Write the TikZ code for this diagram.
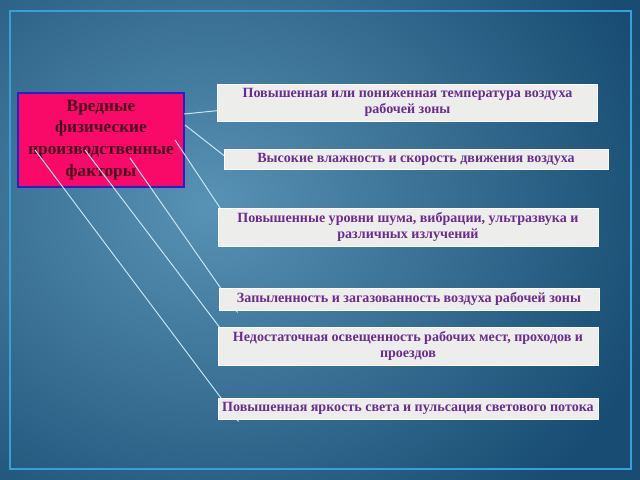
\documentclass[tikz,border=0pt]{standalone}
\usepackage{fontspec}
\setmainfont{Liberation Serif}
\usepackage{tikz}
\usetikzlibrary{arrows,positioning,calc}
\definecolor{bgin}{HTML}{5892B4}
\definecolor{bgout}{HTML}{184C72}
\definecolor{framec}{HTML}{3A9FD6}
\definecolor{hazfill}{HTML}{FA0A68}
\definecolor{hazline}{HTML}{2222C8}
\definecolor{haztext}{HTML}{4A0A1E}
\definecolor{itemfill}{HTML}{EDEDEB}
\definecolor{itemtext}{HTML}{6A2C8E}
\definecolor{linkc}{HTML}{C8E6F4}
\tikzset{hazard/.style={draw=hazline,fill=hazfill,line width=1.4pt,text=haztext,
    minimum width=4.15cm,minimum height=2.35cm,align=center,inner sep=0pt,
    font=\fontsize{12.3}{15.4}\selectfont\bfseries}}
\tikzset{item/.style={fill=itemfill,draw=white,line width=0.4pt,text=itemtext,
    minimum width=9.5cm,align=center,inner xsep=0.1cm,inner ysep=1pt,
    font=\fontsize{10}{11.4}\selectfont\bfseries}}
\tikzset{link/.style={draw=linkc,line width=0.7pt,->}}

\begin{document}
\begin{tikzpicture}[x=0.025cm, y=-0.025cm, >=latex]
\useasboundingbox (0,0) rectangle (640,480);
% background
\begin{scope}
  \clip (0,0) rectangle (640,480);
  \shade[inner color=bgin, outer color=bgout] (-260,-190) rectangle (680,600);
\end{scope}
\draw[framec, line width=1.2pt] (10,11) rectangle (631,469);

\node[hazard] (F) at (101,140) {Вредные\\физические\\производственные\\факторы};

% link starts and (hidden) tips
\coordinate (s1) at (184,114);
\coordinate (s2) at (185,125);
\coordinate (s3) at (175,140);
\coordinate (s4) at (130,158);
\coordinate (s5) at (85,150);
\coordinate (s6) at (35,150);
\coordinate (e1) at (234,109);
\coordinate (e2) at (236,165);
\coordinate (e3) at (238,235);
\coordinate (e4) at (238,313);
\coordinate (e5) at (233,345);
\coordinate (e6) at (239,422);

\path (s1) edge[link] (e1);
\path (s2) edge[link] (e2);
\path (s3) edge[link] (e3);
\path (s4) edge[link] (e4);
\path (s5) edge[link] (e5);
\path (s6) edge[link] (e6);

\node[item, minimum height=0.925cm] (B1) at (407.5,102.5) {Повышенная или пониженная температура воздуха\\рабочей зоны};
\node[item, minimum height=0.5cm, minimum width=9.6cm] (B2) at (416,159) {Высокие влажность и скорость движения воздуха};
\node[item, minimum height=0.95cm] (B3) at (408,227) {Повышенные уровни шума, вибрации, ультразвука и\\различных излучений};
\node[item, minimum height=0.55cm] (B4) at (409,299) {Запыленность и загазованность воздуха рабочей зоны};
\node[item, minimum height=0.95cm] (B5) at (408,346) {Недостаточная освещенность рабочих мест, проходов и\\проездов};
\node[item, minimum height=0.525cm] (B6) at (408,408.5) {Повышенная яркость света и пульсация светового потока};
\end{tikzpicture}
\end{document}
